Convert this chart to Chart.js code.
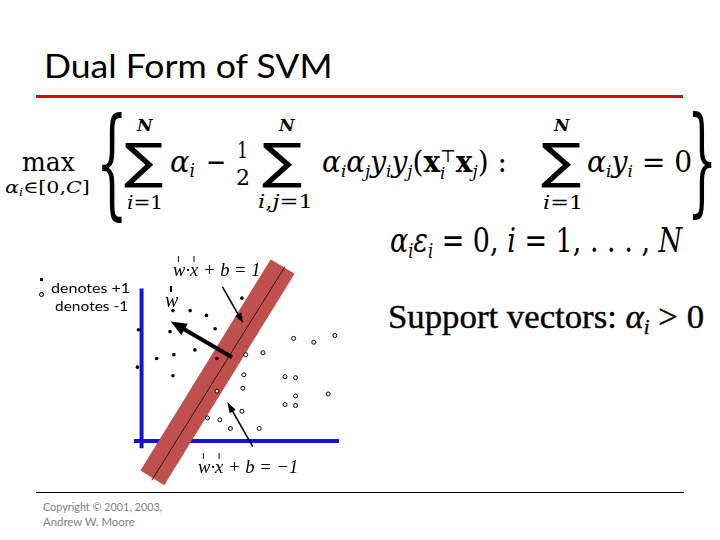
<!DOCTYPE html>
<html>
<head>
<meta charset="utf-8">
<script src="https://cdn.jsdelivr.net/npm/chart.js@4.4.0/dist/chart.umd.min.js"></script>
<style>
  html, body { margin: 0; padding: 0; background: #fff; }
  #page { position: relative; width: 720px; height: 540px; overflow: hidden; }
  #plot { position: absolute; left: 120px; top: 250px; }
  .t { position: absolute; white-space: nowrap; line-height: 1; color: #000; z-index: 2; }
  .bl { display: inline-block; width: 0; height: 0; }
  .s { font-size: 0.6em; vertical-align: -0.28em; }
  .v { position: relative; }
  .v::before { content: ""; position: absolute; left: 40%; top: -0.15em; width: 1.2px; height: 0.32em; background: #000; }
  .rule { position: absolute; }
</style>
</head>
<body>
<div id="page">
  <canvas id="plot" width="240" height="240"></canvas>
</div>
<script>
// --- data (diagram units, 0..24 on both axes) ---
// points of class +1 (filled)
const plusX = [12.2, 5.0, 6.8, 8.5, 1.4, 4.7, 9.4, 7.3, 5.1, 3.3, 9.6, 1.3, 5.0];
const plusY = [19.5, 18.2, 18.2, 17.7, 16.2, 16.0, 16.3, 14.1, 13.6, 13.2, 13.2, 12.3, 11.4];
// points of class -1 (open)
const minusX = [17.6, 19.7, 21.9, 12.6, 14.4, 12.4, 16.7, 17.8, 12.3, 9.6, 21.2, 17.8, 16.7, 17.8, 12.2, 8.6, 9.9, 11.0, 14.0];
const minusY = [15.3, 14.9, 15.6, 13.6, 13.8, 11.5, 11.3, 11.2, 10.1, 9.8, 9.5, 9.3, 8.4, 8.3, 7.7, 7.0, 6.8, 5.9, 5.9];
// coordinate axes
const hAxisX = [0.93, 22.33];
const hAxisY = [4.6, 4.6];
const vAxisX = [1.73, 1.73];
const vAxisY = [3.83, 20.5];
// margin band and separating line
const bandX = [2.85, 16.45];
const bandY = [0.75, 22.8];
const planeX = [2.8, 16.7];
const planeY = [0.5, 22.8];
// arrows: tail -> tip
const arrowFrom = [[11.17, 13.33], [10.17, 20.67], [13.33, 4.0]];
const arrowTo = [[4.77, 17.07], [12.33, 16.9], [10.67, 8.67]];
const arrowWidth = [4, 1.6, 1.6];
const headLen = [16, 10, 11];
const headHalf = [6.5, 3.5, 3.5];

const PX = 10; // canvas pixels per diagram unit (240px / 24)

function pts(xs, ys) {
  return xs.map((x, i) => ({ x: x, y: ys[i] }));
}

// shaft stops a bit inside the arrow head so the tip stays sharp
function shaft(k) {
  const f = arrowFrom[k], t = arrowTo[k];
  const dx = f[0] - t[0], dy = f[1] - t[1];
  const d = Math.sqrt(dx * dx + dy * dy);
  const back = headLen[k] * 0.6 / PX / d;
  return [{ x: f[0], y: f[1] }, { x: t[0] + dx * back, y: t[1] + dy * back }];
}

const arrowHeads = {
  id: 'arrowHeads',
  afterDatasetsDraw(chart) {
    const ctx = chart.ctx, sx = chart.scales.x, sy = chart.scales.y;
    arrowTo.forEach((t, k) => {
      const f = arrowFrom[k];
      const x0 = sx.getPixelForValue(f[0]), y0 = sy.getPixelForValue(f[1]);
      const x1 = sx.getPixelForValue(t[0]), y1 = sy.getPixelForValue(t[1]);
      const a = Math.atan2(y1 - y0, x1 - x0);
      const L = headLen[k], H = headHalf[k];
      ctx.save();
      ctx.fillStyle = '#000';
      ctx.beginPath();
      ctx.moveTo(x1, y1);
      ctx.lineTo(x1 - L * Math.cos(a) + H * Math.sin(a), y1 - L * Math.sin(a) - H * Math.cos(a));
      ctx.lineTo(x1 - L * Math.cos(a) - H * Math.sin(a), y1 - L * Math.sin(a) + H * Math.cos(a));
      ctx.closePath();
      ctx.fill();
      ctx.restore();
    });
  }
};

const lineDs = (data, color, width, order) => ({
  type: 'line', data: data, borderColor: color, borderWidth: width,
  pointRadius: 0, fill: false, tension: 0, borderCapStyle: 'butt', order: order, clip: false
});

const datasets = [
  lineDs(pts(hAxisX, hAxisY), '#1414d2', 4, 6),
  lineDs(pts(vAxisX, vAxisY), '#1414d2', 4, 6),
  lineDs(pts(bandX, bandY), '#c0504d', 28, 5),
  lineDs(pts(planeX, planeY), '#000', 0.8, 4)
];
arrowFrom.forEach((f, k) => datasets.push(lineDs(shaft(k), '#000', arrowWidth[k], 3)));
datasets.push({
  label: '+1', data: pts(plusX, plusY), pointRadius: 1.8, pointBackgroundColor: '#000',
  pointBorderWidth: 0, order: 1
});
datasets.push({
  label: '-1', data: pts(minusX, minusY), pointRadius: 2, pointBackgroundColor: '#fff',
  pointBorderColor: '#000', pointBorderWidth: 1, order: 1
});

new Chart(document.getElementById('plot'), {
  type: 'scatter',
  data: { datasets: datasets },
  options: {
    responsive: false,
    animation: false,
    events: [],
    layout: { padding: 0 },
    plugins: { legend: { display: false }, tooltip: { enabled: false } },
    scales: {
      x: { type: 'linear', min: 0, max: 24, display: false },
      y: { type: 'linear', min: 0, max: 24, display: false }
    }
  },
  plugins: [arrowHeads]
});

// --- text of the slide ---
const page = document.getElementById('page');
const MATH = '"DejaVu Serif", serif';
const OPS = '"DejaVu Sans", sans-serif';
const ROMAN = '"Liberation Serif", serif';
const SANS = 'Lato, "Open Sans", sans-serif';
const mctx = document.createElement('canvas').getContext('2d');

// place html so its baseline sits at `base`, optionally squeezed to width w
function put(html, x, base, size, fam, opts) {
  opts = opts || {};
  const d = document.createElement('div');
  d.className = 't';
  d.style.fontFamily = fam;
  d.style.fontSize = size + 'px';
  if (opts.lh) d.style.lineHeight = opts.lh;
  if (opts.weight) d.style.fontWeight = opts.weight;
  if (opts.style) d.style.fontStyle = opts.style;
  if (opts.color) d.style.color = opts.color;
  if (opts.stroke) d.style.webkitTextStroke = opts.stroke;
  d.innerHTML = html + '<span class="bl"></span>';
  page.appendChild(d);
  const b = d.lastChild.getBoundingClientRect().top - d.getBoundingClientRect().top;
  d.style.left = x + 'px';
  d.style.top = (base - b) + 'px';
  d.style.transformOrigin = '0 ' + b + 'px';
  if (opts.w) d.style.transform = 'scaleX(' + (opts.w / d.offsetWidth) + ')';
  return d;
}

// stretch a single glyph so its ink fills the box
function glyph(ch, fam, weight, x0, y0, x1, y1) {
  mctx.font = weight + ' 100px ' + fam;
  const m = mctx.measureText(ch);
  const sx = (x1 - x0) / (m.actualBoundingBoxLeft + m.actualBoundingBoxRight);
  const sy = (y1 - y0) / (m.actualBoundingBoxAscent + m.actualBoundingBoxDescent);
  const d = put(ch, x0 + sx * m.actualBoundingBoxLeft, y0 + sy * m.actualBoundingBoxAscent, 100, fam,
                { weight: weight, lh: '0.75' });
  d.style.transform = 'scale(' + sx + ',' + sy + ')';
}

function rule(x, y, w, h, color) {
  const d = document.createElement('div');
  d.className = 'rule';
  d.style.cssText += 'left:' + x + 'px;top:' + y + 'px;width:' + w + 'px;height:' + h + 'px;background:' + color;
  page.appendChild(d);
}

const sub = t => '<span class="s">' + t + '</span>';

// title and rules
put('Dual Form of SVM', 44, 78, 32, SANS, { w: 289 });
rule(36, 95, 647, 3, '#e00000');
rule(36, 492, 648, 1, '#000');
put('Copyright © 2001, 2003,', 43, 511, 11, SANS, { w: 119, color: '#808080' });
put('Andrew W. Moore', 43, 525.5, 11, SANS, { w: 92, color: '#808080' });

// dual problem
put('max', 22, 171, 26, MATH, { w: 53 });
put('<i>α' + sub('i') + '</i>∈[0,<i>C</i>]', 5, 193, 17, MATH, { w: 85 });
glyph('{', MATH, 'normal', 102, 112, 122, 222);
glyph('∑', OPS, 'normal', 125, 143, 163, 188);
put('<i>N</i>', 137, 131, 17, MATH, { w: 16, weight: 'bold' });
put('<i>i</i>=1', 127, 209, 19, MATH, { w: 36 });
put('<i>α' + sub('i') + '</i>', 170, 172, 30, MATH, { w: 25 });
put('−', 206, 172, 30, MATH, { w: 20 });
put('1', 237, 158, 22, MATH, { w: 11 });
put('2', 236, 185, 22, MATH, { w: 14 });
glyph('∑', OPS, 'normal', 263, 143, 302, 188);
put('<i>N</i>', 279, 131, 17, MATH, { w: 16, weight: 'bold' });
put('<i>i</i>,<i>j</i>=1', 258, 208, 19, MATH, { w: 55 });
put('<i>α' + sub('i') + 'α' + sub('j') + 'y' + sub('i') + 'y' + sub('j') + '</i>(<b>x</b>' +
    '<span style="display:inline-block;font-size:0.6em;line-height:1;vertical-align:-0.4em">' +
    '<span style="display:block">⊤</span><i>i</i></span><b>x</b><i>' + sub('j') + '</i>) :',
    322, 172, 29, MATH, { w: 185 });
glyph('∑', OPS, 'normal', 542, 143, 581, 188);
put('<i>N</i>', 554, 131, 17, MATH, { w: 16, weight: 'bold' });
put('<i>i</i>=1', 543, 209, 19, MATH, { w: 40 });
put('<i>α' + sub('i') + 'y' + sub('i') + '</i> = 0', 587, 172, 29, MATH, { w: 105 });
glyph('}', MATH, 'normal', 693, 112, 712, 220);

put('<i>α' + sub('i') + 'ε' + sub('i') + '</i> = 0, <i>i</i> = 1, . . . , <i>N</i>', 390, 252, 33, MATH, { w: 292 });
put('Support vectors: <i>α' + sub('i') + '</i> &gt; 0', 388, 328, 34, ROMAN, { w: 316, stroke: '0.4px #000' });

// legend
rule(39.5, 278, 3, 3, '#000');
const ring = document.createElement('div');
ring.style.cssText = 'position:absolute;left:38.5px;top:291.5px;width:3px;height:3px;border:1px solid #000;border-radius:50%';
page.appendChild(ring);
put('denotes +1', 51, 293, 14, SANS, { w: 79 });
put('denotes -1', 55, 310.5, 14, SANS, { w: 73 });

// labels on the diagram
put('<span class="v">w</span>·<span class="v">x</span> + b = 1', 173, 276, 19, ROMAN, { style: 'italic', w: 88 });
put('<span class="v">w</span>', 165, 307, 20, ROMAN, { style: 'italic' });
put('<span class="v">w</span>·<span class="v">x</span> + b = −1', 198, 473, 19, ROMAN, { style: 'italic', w: 100 });
</script>
</body>
</html>
